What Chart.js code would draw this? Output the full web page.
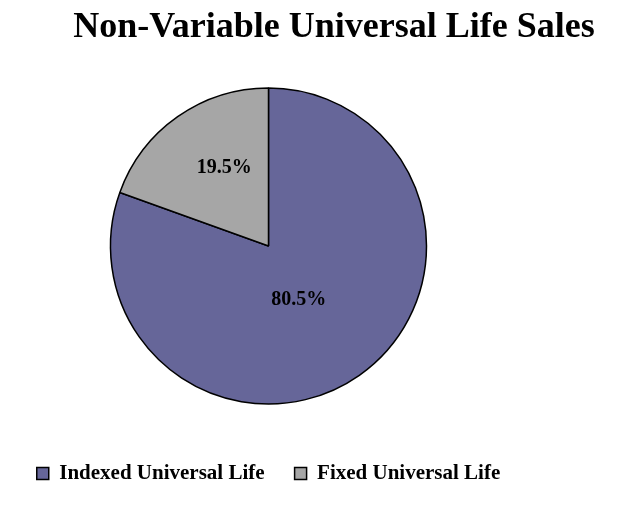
<!DOCTYPE html>
<html>
<head>
<meta charset="utf-8">
<script src="https://cdn.jsdelivr.net/npm/chart.js@4"></script>
<style>
  html, body { margin: 0; padding: 0; background: #fff; }
  #wrap { width: 623px; height: 513px; }
</style>
</head>
<body>
<div id="wrap"><canvas id="pie"></canvas></div>
<script>
const chartTitle = "Non-Variable Universal Life Sales";
const categories = ["Indexed Universal Life", "Fixed Universal Life"];
const shares = [80.5, 19.5];
const sliceColors = ["#666699", "#a6a6a6"];

const serif = "'Liberation Serif', 'Times New Roman', serif";

// title drawn by hand so it can sit right of the pie centre like the original
const titlePlugin = {
  id: "titlePlugin",
  afterDraw(chart) {
    const ctx = chart.ctx;
    ctx.save();
    ctx.font = "bold 36px " + serif;
    ctx.fillStyle = "#000";
    ctx.textAlign = "center";
    ctx.textBaseline = "alphabetic";
    ctx.fillText(chartTitle, 334, 37);
    ctx.restore();
  }
};

// percentage labels inside the slices, nudged a little clockwise like Excel does
const radialPos = [0.39, 0.57];
const angleNudge = 0.1;
const sliceLabels = {
  id: "sliceLabels",
  afterDatasetsDraw(chart) {
    const ctx = chart.ctx;
    const meta = chart.getDatasetMeta(0);
    ctx.save();
    ctx.font = "bold 20px " + serif;
    ctx.fillStyle = "#000";
    ctx.textAlign = "center";
    ctx.textBaseline = "middle";
    meta.data.forEach((arc, i) => {
      const p = arc.getProps(["x", "y", "startAngle", "endAngle", "outerRadius"], true);
      const mid = (p.startAngle + p.endAngle) / 2 + angleNudge;
      const r = p.outerRadius * radialPos[i];
      ctx.fillText(shares[i].toFixed(1) + "%", p.x + Math.cos(mid) * r, p.y + Math.sin(mid) * r);
    });
    ctx.restore();
  }
};

new Chart(document.getElementById("pie"), {
  type: "pie",
  data: {
    labels: categories,
    datasets: [{
      data: shares,
      backgroundColor: sliceColors,
      borderColor: "#000",
      borderWidth: 1.5,
      radius: 158
    }]
  },
  options: {
    responsive: true,
    maintainAspectRatio: false,
    animation: false,
    layout: { padding: { top: 59, left: 0, right: 86, bottom: 19 } },
    plugins: {
      tooltip: { enabled: false },
      title: { display: false },
      legend: {
        position: "bottom",
        align: "center",
        labels: {
          color: "#000",
          font: { family: serif, size: 21, weight: "bold" },
          boxWidth: 12,
          boxHeight: 12,
          padding: 30
        }
      }
    }
  },
  plugins: [titlePlugin, sliceLabels]
});
</script>
</body>
</html>
